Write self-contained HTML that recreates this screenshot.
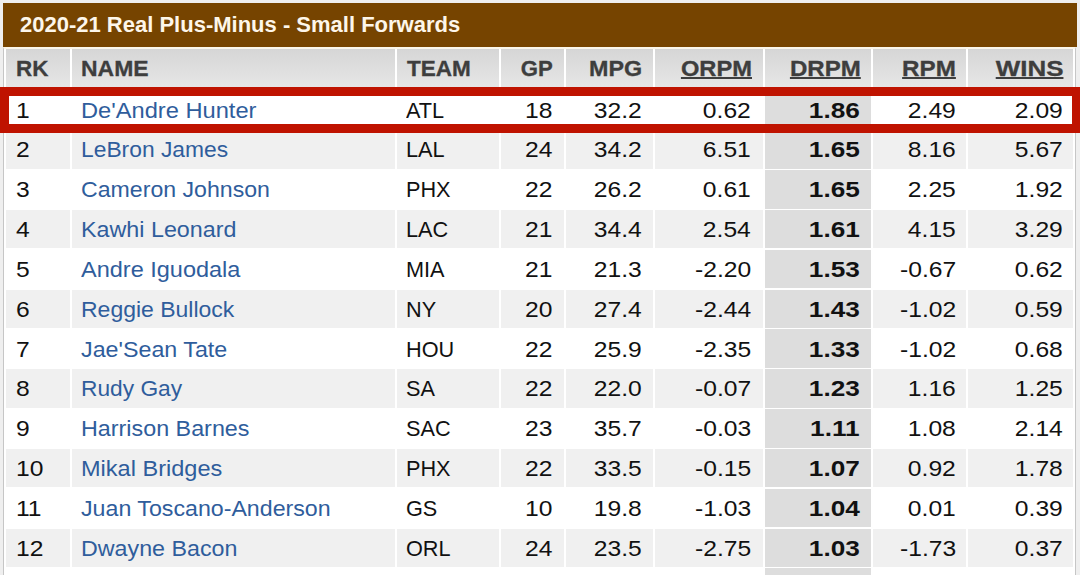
<!DOCTYPE html><html><head><meta charset="utf-8"><style>
*{margin:0;padding:0;box-sizing:border-box}
html,body{width:1080px;height:575px;overflow:hidden;background:#efefef;font-family:"Liberation Sans",sans-serif}
.tb{position:absolute;left:3px;top:47px;border-top:2px solid #fbf6ea;width:1073px;height:540px;background:#fff;border-left:1px solid #c6c6c6;border-right:1px solid #c6c6c6}
.title{position:absolute;left:2.5px;top:3px;width:1074px;height:44px;background:#764400}
.title span{position:absolute;left:17.5px;top:0;line-height:44px;font-size:22px;font-weight:bold;color:#fdf6ea;white-space:nowrap}
.c{position:absolute}
.t{position:absolute;white-space:pre;font-size:22px;line-height:22px;height:22px}
.l{transform-origin:0 0}
.r{transform-origin:100% 0;text-align:right}
.hd{background:linear-gradient(#d6d6d6,#e6e6e6)}
.ht{font-weight:bold;color:#3e3e3e;-webkit-text-stroke:0.3px #3e3e3e}
.u{text-decoration:underline;text-decoration-thickness:1.5px;text-underline-offset:1.2px}
.odd{background:#ffffff}
.even{background:#f0f0f0}
.srt{background:#dddddd}
.srte{background:#dddddd}
.nm{color:#2f5d9c}
.dk{color:#111}
.b{font-weight:bold}
.box{position:absolute;left:0px;top:87px;width:1081px;height:46px;border:9px solid #bf1300}
</style></head><body><div class="tb"></div>
<div class="title"><span>2020-21 Real Plus-Minus - Small Forwards</span></div>
<div class="c hd" style="left:6.00px;top:48.50px;width:64.00px;height:38.00px"></div>
<div class="c hd" style="left:72.00px;top:48.50px;width:323.00px;height:38.00px"></div>
<div class="c hd" style="left:397.00px;top:48.50px;width:102.00px;height:38.00px"></div>
<div class="c hd" style="left:501.00px;top:48.50px;width:63.00px;height:38.00px"></div>
<div class="c hd" style="left:566.00px;top:48.50px;width:87.00px;height:38.00px"></div>
<div class="c hd" style="left:655.00px;top:48.50px;width:108.00px;height:38.00px"></div>
<div class="c hd" style="left:765.00px;top:48.50px;width:106.00px;height:38.00px"></div>
<div class="c hd" style="left:873.00px;top:48.50px;width:93.00px;height:38.00px"></div>
<div class="c hd" style="left:968.00px;top:48.50px;width:105.00px;height:38.00px"></div>
<div class="t l ht" style="left:16.20px;top:58.10px;transform:scaleX(1.020)">RK</div>
<div class="t l ht" style="left:81.00px;top:58.10px;transform:scaleX(1.043)">NAME</div>
<div class="t l ht" style="left:407.30px;top:58.10px;transform:scaleX(1.025)">TEAM</div>
<div class="t r ht" style="right:527.10px;top:58.10px;transform:scaleX(1.007)">GP</div>
<div class="t r ht" style="right:438.30px;top:58.10px;transform:scaleX(1.060)">MPG</div>
<div class="t r ht u" style="right:328.20px;top:58.10px;transform:scaleX(1.077)">ORPM</div>
<div class="t r ht u" style="right:219.00px;top:58.10px;transform:scaleX(1.094)">DRPM</div>
<div class="t r ht u" style="right:123.90px;top:58.10px;transform:scaleX(1.100)">RPM</div>
<div class="t r ht u" style="right:16.40px;top:58.10px;transform:scaleX(1.179)">WINS</div>
<div class="c odd" style="left:6.00px;top:90.40px;width:64.00px;height:38.60px"></div>
<div class="c odd" style="left:72.00px;top:90.40px;width:323.00px;height:38.60px"></div>
<div class="c odd" style="left:397.00px;top:90.40px;width:102.00px;height:38.60px"></div>
<div class="c odd" style="left:501.00px;top:90.40px;width:63.00px;height:38.60px"></div>
<div class="c odd" style="left:566.00px;top:90.40px;width:87.00px;height:38.60px"></div>
<div class="c odd" style="left:655.00px;top:90.40px;width:108.00px;height:38.60px"></div>
<div class="c srt" style="left:765.00px;top:90.40px;width:106.00px;height:38.60px"></div>
<div class="c odd" style="left:873.00px;top:90.40px;width:93.00px;height:38.60px"></div>
<div class="c odd" style="left:968.00px;top:90.40px;width:105.00px;height:38.60px"></div>
<div class="t l dk" style="left:16.00px;top:99.60px;transform:scaleX(1.120)">1</div>
<div class="t l nm" style="left:81.00px;top:99.60px;transform:scaleX(1.075)">De&#39;Andre Hunter</div>
<div class="t l dk" style="left:406.00px;top:99.60px;transform:scaleX(0.985)">ATL</div>
<div class="t r dk" style="right:527.50px;top:99.60px;transform:scaleX(1.120)">18</div>
<div class="t r dk" style="right:438.50px;top:99.60px;transform:scaleX(1.120)">32.2</div>
<div class="t r dk" style="right:329.30px;top:99.60px;transform:scaleX(1.120)">0.62</div>
<div class="t r dk b" style="right:220.40px;top:99.60px;transform:scaleX(1.190)">1.86</div>
<div class="t r dk" style="right:124.00px;top:99.60px;transform:scaleX(1.120)">2.49</div>
<div class="t r dk" style="right:17.00px;top:99.60px;transform:scaleX(1.120)">2.09</div>
<div class="c even" style="left:6.00px;top:130.23px;width:64.00px;height:38.60px"></div>
<div class="c even" style="left:72.00px;top:130.23px;width:323.00px;height:38.60px"></div>
<div class="c even" style="left:397.00px;top:130.23px;width:102.00px;height:38.60px"></div>
<div class="c even" style="left:501.00px;top:130.23px;width:63.00px;height:38.60px"></div>
<div class="c even" style="left:566.00px;top:130.23px;width:87.00px;height:38.60px"></div>
<div class="c even" style="left:655.00px;top:130.23px;width:108.00px;height:38.60px"></div>
<div class="c srte" style="left:765.00px;top:130.23px;width:106.00px;height:38.60px"></div>
<div class="c even" style="left:873.00px;top:130.23px;width:93.00px;height:38.60px"></div>
<div class="c even" style="left:968.00px;top:130.23px;width:105.00px;height:38.60px"></div>
<div class="t l dk" style="left:16.00px;top:139.43px;transform:scaleX(1.120)">2</div>
<div class="t l nm" style="left:81.00px;top:139.43px;transform:scaleX(1.037)">LeBron James</div>
<div class="t l dk" style="left:406.00px;top:139.43px;transform:scaleX(0.985)">LAL</div>
<div class="t r dk" style="right:527.50px;top:139.43px;transform:scaleX(1.120)">24</div>
<div class="t r dk" style="right:438.50px;top:139.43px;transform:scaleX(1.120)">34.2</div>
<div class="t r dk" style="right:329.30px;top:139.43px;transform:scaleX(1.120)">6.51</div>
<div class="t r dk b" style="right:220.40px;top:139.43px;transform:scaleX(1.190)">1.65</div>
<div class="t r dk" style="right:124.00px;top:139.43px;transform:scaleX(1.120)">8.16</div>
<div class="t r dk" style="right:17.00px;top:139.43px;transform:scaleX(1.120)">5.67</div>
<div class="c odd" style="left:6.00px;top:170.06px;width:64.00px;height:38.60px"></div>
<div class="c odd" style="left:72.00px;top:170.06px;width:323.00px;height:38.60px"></div>
<div class="c odd" style="left:397.00px;top:170.06px;width:102.00px;height:38.60px"></div>
<div class="c odd" style="left:501.00px;top:170.06px;width:63.00px;height:38.60px"></div>
<div class="c odd" style="left:566.00px;top:170.06px;width:87.00px;height:38.60px"></div>
<div class="c odd" style="left:655.00px;top:170.06px;width:108.00px;height:38.60px"></div>
<div class="c srt" style="left:765.00px;top:170.06px;width:106.00px;height:38.60px"></div>
<div class="c odd" style="left:873.00px;top:170.06px;width:93.00px;height:38.60px"></div>
<div class="c odd" style="left:968.00px;top:170.06px;width:105.00px;height:38.60px"></div>
<div class="t l dk" style="left:16.00px;top:179.26px;transform:scaleX(1.120)">3</div>
<div class="t l nm" style="left:81.00px;top:179.26px;transform:scaleX(1.051)">Cameron Johnson</div>
<div class="t l dk" style="left:406.00px;top:179.26px;transform:scaleX(0.985)">PHX</div>
<div class="t r dk" style="right:527.50px;top:179.26px;transform:scaleX(1.120)">22</div>
<div class="t r dk" style="right:438.50px;top:179.26px;transform:scaleX(1.120)">26.2</div>
<div class="t r dk" style="right:329.30px;top:179.26px;transform:scaleX(1.120)">0.61</div>
<div class="t r dk b" style="right:220.40px;top:179.26px;transform:scaleX(1.190)">1.65</div>
<div class="t r dk" style="right:124.00px;top:179.26px;transform:scaleX(1.120)">2.25</div>
<div class="t r dk" style="right:17.00px;top:179.26px;transform:scaleX(1.120)">1.92</div>
<div class="c even" style="left:6.00px;top:209.89px;width:64.00px;height:38.60px"></div>
<div class="c even" style="left:72.00px;top:209.89px;width:323.00px;height:38.60px"></div>
<div class="c even" style="left:397.00px;top:209.89px;width:102.00px;height:38.60px"></div>
<div class="c even" style="left:501.00px;top:209.89px;width:63.00px;height:38.60px"></div>
<div class="c even" style="left:566.00px;top:209.89px;width:87.00px;height:38.60px"></div>
<div class="c even" style="left:655.00px;top:209.89px;width:108.00px;height:38.60px"></div>
<div class="c srte" style="left:765.00px;top:209.89px;width:106.00px;height:38.60px"></div>
<div class="c even" style="left:873.00px;top:209.89px;width:93.00px;height:38.60px"></div>
<div class="c even" style="left:968.00px;top:209.89px;width:105.00px;height:38.60px"></div>
<div class="t l dk" style="left:16.00px;top:219.09px;transform:scaleX(1.120)">4</div>
<div class="t l nm" style="left:81.00px;top:219.09px;transform:scaleX(1.059)">Kawhi Leonard</div>
<div class="t l dk" style="left:406.00px;top:219.09px;transform:scaleX(0.985)">LAC</div>
<div class="t r dk" style="right:527.50px;top:219.09px;transform:scaleX(1.120)">21</div>
<div class="t r dk" style="right:438.50px;top:219.09px;transform:scaleX(1.120)">34.4</div>
<div class="t r dk" style="right:329.30px;top:219.09px;transform:scaleX(1.120)">2.54</div>
<div class="t r dk b" style="right:220.40px;top:219.09px;transform:scaleX(1.190)">1.61</div>
<div class="t r dk" style="right:124.00px;top:219.09px;transform:scaleX(1.120)">4.15</div>
<div class="t r dk" style="right:17.00px;top:219.09px;transform:scaleX(1.120)">3.29</div>
<div class="c odd" style="left:6.00px;top:249.72px;width:64.00px;height:38.60px"></div>
<div class="c odd" style="left:72.00px;top:249.72px;width:323.00px;height:38.60px"></div>
<div class="c odd" style="left:397.00px;top:249.72px;width:102.00px;height:38.60px"></div>
<div class="c odd" style="left:501.00px;top:249.72px;width:63.00px;height:38.60px"></div>
<div class="c odd" style="left:566.00px;top:249.72px;width:87.00px;height:38.60px"></div>
<div class="c odd" style="left:655.00px;top:249.72px;width:108.00px;height:38.60px"></div>
<div class="c srt" style="left:765.00px;top:249.72px;width:106.00px;height:38.60px"></div>
<div class="c odd" style="left:873.00px;top:249.72px;width:93.00px;height:38.60px"></div>
<div class="c odd" style="left:968.00px;top:249.72px;width:105.00px;height:38.60px"></div>
<div class="t l dk" style="left:16.00px;top:258.92px;transform:scaleX(1.120)">5</div>
<div class="t l nm" style="left:81.00px;top:258.92px;transform:scaleX(1.068)">Andre Iguodala</div>
<div class="t l dk" style="left:406.00px;top:258.92px;transform:scaleX(0.985)">MIA</div>
<div class="t r dk" style="right:527.50px;top:258.92px;transform:scaleX(1.120)">21</div>
<div class="t r dk" style="right:438.50px;top:258.92px;transform:scaleX(1.120)">21.3</div>
<div class="t r dk" style="right:329.30px;top:258.92px;transform:scaleX(1.120)">-2.20</div>
<div class="t r dk b" style="right:220.40px;top:258.92px;transform:scaleX(1.190)">1.53</div>
<div class="t r dk" style="right:124.00px;top:258.92px;transform:scaleX(1.120)">-0.67</div>
<div class="t r dk" style="right:17.00px;top:258.92px;transform:scaleX(1.120)">0.62</div>
<div class="c even" style="left:6.00px;top:289.55px;width:64.00px;height:38.60px"></div>
<div class="c even" style="left:72.00px;top:289.55px;width:323.00px;height:38.60px"></div>
<div class="c even" style="left:397.00px;top:289.55px;width:102.00px;height:38.60px"></div>
<div class="c even" style="left:501.00px;top:289.55px;width:63.00px;height:38.60px"></div>
<div class="c even" style="left:566.00px;top:289.55px;width:87.00px;height:38.60px"></div>
<div class="c even" style="left:655.00px;top:289.55px;width:108.00px;height:38.60px"></div>
<div class="c srte" style="left:765.00px;top:289.55px;width:106.00px;height:38.60px"></div>
<div class="c even" style="left:873.00px;top:289.55px;width:93.00px;height:38.60px"></div>
<div class="c even" style="left:968.00px;top:289.55px;width:105.00px;height:38.60px"></div>
<div class="t l dk" style="left:16.00px;top:298.75px;transform:scaleX(1.120)">6</div>
<div class="t l nm" style="left:81.00px;top:298.75px;transform:scaleX(1.045)">Reggie Bullock</div>
<div class="t l dk" style="left:406.00px;top:298.75px;transform:scaleX(0.985)">NY</div>
<div class="t r dk" style="right:527.50px;top:298.75px;transform:scaleX(1.120)">20</div>
<div class="t r dk" style="right:438.50px;top:298.75px;transform:scaleX(1.120)">27.4</div>
<div class="t r dk" style="right:329.30px;top:298.75px;transform:scaleX(1.120)">-2.44</div>
<div class="t r dk b" style="right:220.40px;top:298.75px;transform:scaleX(1.190)">1.43</div>
<div class="t r dk" style="right:124.00px;top:298.75px;transform:scaleX(1.120)">-1.02</div>
<div class="t r dk" style="right:17.00px;top:298.75px;transform:scaleX(1.120)">0.59</div>
<div class="c odd" style="left:6.00px;top:329.38px;width:64.00px;height:38.60px"></div>
<div class="c odd" style="left:72.00px;top:329.38px;width:323.00px;height:38.60px"></div>
<div class="c odd" style="left:397.00px;top:329.38px;width:102.00px;height:38.60px"></div>
<div class="c odd" style="left:501.00px;top:329.38px;width:63.00px;height:38.60px"></div>
<div class="c odd" style="left:566.00px;top:329.38px;width:87.00px;height:38.60px"></div>
<div class="c odd" style="left:655.00px;top:329.38px;width:108.00px;height:38.60px"></div>
<div class="c srt" style="left:765.00px;top:329.38px;width:106.00px;height:38.60px"></div>
<div class="c odd" style="left:873.00px;top:329.38px;width:93.00px;height:38.60px"></div>
<div class="c odd" style="left:968.00px;top:329.38px;width:105.00px;height:38.60px"></div>
<div class="t l dk" style="left:16.00px;top:338.58px;transform:scaleX(1.120)">7</div>
<div class="t l nm" style="left:81.00px;top:338.58px;transform:scaleX(1.057)">Jae&#39;Sean Tate</div>
<div class="t l dk" style="left:406.00px;top:338.58px;transform:scaleX(0.985)">HOU</div>
<div class="t r dk" style="right:527.50px;top:338.58px;transform:scaleX(1.120)">22</div>
<div class="t r dk" style="right:438.50px;top:338.58px;transform:scaleX(1.120)">25.9</div>
<div class="t r dk" style="right:329.30px;top:338.58px;transform:scaleX(1.120)">-2.35</div>
<div class="t r dk b" style="right:220.40px;top:338.58px;transform:scaleX(1.190)">1.33</div>
<div class="t r dk" style="right:124.00px;top:338.58px;transform:scaleX(1.120)">-1.02</div>
<div class="t r dk" style="right:17.00px;top:338.58px;transform:scaleX(1.120)">0.68</div>
<div class="c even" style="left:6.00px;top:369.21px;width:64.00px;height:38.60px"></div>
<div class="c even" style="left:72.00px;top:369.21px;width:323.00px;height:38.60px"></div>
<div class="c even" style="left:397.00px;top:369.21px;width:102.00px;height:38.60px"></div>
<div class="c even" style="left:501.00px;top:369.21px;width:63.00px;height:38.60px"></div>
<div class="c even" style="left:566.00px;top:369.21px;width:87.00px;height:38.60px"></div>
<div class="c even" style="left:655.00px;top:369.21px;width:108.00px;height:38.60px"></div>
<div class="c srte" style="left:765.00px;top:369.21px;width:106.00px;height:38.60px"></div>
<div class="c even" style="left:873.00px;top:369.21px;width:93.00px;height:38.60px"></div>
<div class="c even" style="left:968.00px;top:369.21px;width:105.00px;height:38.60px"></div>
<div class="t l dk" style="left:16.00px;top:378.41px;transform:scaleX(1.120)">8</div>
<div class="t l nm" style="left:81.00px;top:378.41px;transform:scaleX(1.034)">Rudy Gay</div>
<div class="t l dk" style="left:406.00px;top:378.41px;transform:scaleX(0.985)">SA</div>
<div class="t r dk" style="right:527.50px;top:378.41px;transform:scaleX(1.120)">22</div>
<div class="t r dk" style="right:438.50px;top:378.41px;transform:scaleX(1.120)">22.0</div>
<div class="t r dk" style="right:329.30px;top:378.41px;transform:scaleX(1.120)">-0.07</div>
<div class="t r dk b" style="right:220.40px;top:378.41px;transform:scaleX(1.190)">1.23</div>
<div class="t r dk" style="right:124.00px;top:378.41px;transform:scaleX(1.120)">1.16</div>
<div class="t r dk" style="right:17.00px;top:378.41px;transform:scaleX(1.120)">1.25</div>
<div class="c odd" style="left:6.00px;top:409.04px;width:64.00px;height:38.60px"></div>
<div class="c odd" style="left:72.00px;top:409.04px;width:323.00px;height:38.60px"></div>
<div class="c odd" style="left:397.00px;top:409.04px;width:102.00px;height:38.60px"></div>
<div class="c odd" style="left:501.00px;top:409.04px;width:63.00px;height:38.60px"></div>
<div class="c odd" style="left:566.00px;top:409.04px;width:87.00px;height:38.60px"></div>
<div class="c odd" style="left:655.00px;top:409.04px;width:108.00px;height:38.60px"></div>
<div class="c srt" style="left:765.00px;top:409.04px;width:106.00px;height:38.60px"></div>
<div class="c odd" style="left:873.00px;top:409.04px;width:93.00px;height:38.60px"></div>
<div class="c odd" style="left:968.00px;top:409.04px;width:105.00px;height:38.60px"></div>
<div class="t l dk" style="left:16.00px;top:418.24px;transform:scaleX(1.120)">9</div>
<div class="t l nm" style="left:81.00px;top:418.24px;transform:scaleX(1.060)">Harrison Barnes</div>
<div class="t l dk" style="left:406.00px;top:418.24px;transform:scaleX(0.985)">SAC</div>
<div class="t r dk" style="right:527.50px;top:418.24px;transform:scaleX(1.120)">23</div>
<div class="t r dk" style="right:438.50px;top:418.24px;transform:scaleX(1.120)">35.7</div>
<div class="t r dk" style="right:329.30px;top:418.24px;transform:scaleX(1.120)">-0.03</div>
<div class="t r dk b" style="right:220.40px;top:418.24px;transform:scaleX(1.190)">1.11</div>
<div class="t r dk" style="right:124.00px;top:418.24px;transform:scaleX(1.120)">1.08</div>
<div class="t r dk" style="right:17.00px;top:418.24px;transform:scaleX(1.120)">2.14</div>
<div class="c even" style="left:6.00px;top:448.87px;width:64.00px;height:38.60px"></div>
<div class="c even" style="left:72.00px;top:448.87px;width:323.00px;height:38.60px"></div>
<div class="c even" style="left:397.00px;top:448.87px;width:102.00px;height:38.60px"></div>
<div class="c even" style="left:501.00px;top:448.87px;width:63.00px;height:38.60px"></div>
<div class="c even" style="left:566.00px;top:448.87px;width:87.00px;height:38.60px"></div>
<div class="c even" style="left:655.00px;top:448.87px;width:108.00px;height:38.60px"></div>
<div class="c srte" style="left:765.00px;top:448.87px;width:106.00px;height:38.60px"></div>
<div class="c even" style="left:873.00px;top:448.87px;width:93.00px;height:38.60px"></div>
<div class="c even" style="left:968.00px;top:448.87px;width:105.00px;height:38.60px"></div>
<div class="t l dk" style="left:16.00px;top:458.07px;transform:scaleX(1.120)">10</div>
<div class="t l nm" style="left:81.00px;top:458.07px;transform:scaleX(1.070)">Mikal Bridges</div>
<div class="t l dk" style="left:406.00px;top:458.07px;transform:scaleX(0.985)">PHX</div>
<div class="t r dk" style="right:527.50px;top:458.07px;transform:scaleX(1.120)">22</div>
<div class="t r dk" style="right:438.50px;top:458.07px;transform:scaleX(1.120)">33.5</div>
<div class="t r dk" style="right:329.30px;top:458.07px;transform:scaleX(1.120)">-0.15</div>
<div class="t r dk b" style="right:220.40px;top:458.07px;transform:scaleX(1.190)">1.07</div>
<div class="t r dk" style="right:124.00px;top:458.07px;transform:scaleX(1.120)">0.92</div>
<div class="t r dk" style="right:17.00px;top:458.07px;transform:scaleX(1.120)">1.78</div>
<div class="c odd" style="left:6.00px;top:488.70px;width:64.00px;height:38.60px"></div>
<div class="c odd" style="left:72.00px;top:488.70px;width:323.00px;height:38.60px"></div>
<div class="c odd" style="left:397.00px;top:488.70px;width:102.00px;height:38.60px"></div>
<div class="c odd" style="left:501.00px;top:488.70px;width:63.00px;height:38.60px"></div>
<div class="c odd" style="left:566.00px;top:488.70px;width:87.00px;height:38.60px"></div>
<div class="c odd" style="left:655.00px;top:488.70px;width:108.00px;height:38.60px"></div>
<div class="c srt" style="left:765.00px;top:488.70px;width:106.00px;height:38.60px"></div>
<div class="c odd" style="left:873.00px;top:488.70px;width:93.00px;height:38.60px"></div>
<div class="c odd" style="left:968.00px;top:488.70px;width:105.00px;height:38.60px"></div>
<div class="t l dk" style="left:16.00px;top:497.90px;transform:scaleX(1.120)">11</div>
<div class="t l nm" style="left:81.00px;top:497.90px;transform:scaleX(1.054)">Juan Toscano-Anderson</div>
<div class="t l dk" style="left:406.00px;top:497.90px;transform:scaleX(0.985)">GS</div>
<div class="t r dk" style="right:527.50px;top:497.90px;transform:scaleX(1.120)">10</div>
<div class="t r dk" style="right:438.50px;top:497.90px;transform:scaleX(1.120)">19.8</div>
<div class="t r dk" style="right:329.30px;top:497.90px;transform:scaleX(1.120)">-1.03</div>
<div class="t r dk b" style="right:220.40px;top:497.90px;transform:scaleX(1.190)">1.04</div>
<div class="t r dk" style="right:124.00px;top:497.90px;transform:scaleX(1.120)">0.01</div>
<div class="t r dk" style="right:17.00px;top:497.90px;transform:scaleX(1.120)">0.39</div>
<div class="c even" style="left:6.00px;top:528.53px;width:64.00px;height:38.60px"></div>
<div class="c even" style="left:72.00px;top:528.53px;width:323.00px;height:38.60px"></div>
<div class="c even" style="left:397.00px;top:528.53px;width:102.00px;height:38.60px"></div>
<div class="c even" style="left:501.00px;top:528.53px;width:63.00px;height:38.60px"></div>
<div class="c even" style="left:566.00px;top:528.53px;width:87.00px;height:38.60px"></div>
<div class="c even" style="left:655.00px;top:528.53px;width:108.00px;height:38.60px"></div>
<div class="c srte" style="left:765.00px;top:528.53px;width:106.00px;height:38.60px"></div>
<div class="c even" style="left:873.00px;top:528.53px;width:93.00px;height:38.60px"></div>
<div class="c even" style="left:968.00px;top:528.53px;width:105.00px;height:38.60px"></div>
<div class="t l dk" style="left:16.00px;top:537.73px;transform:scaleX(1.120)">12</div>
<div class="t l nm" style="left:81.00px;top:537.73px;transform:scaleX(1.057)">Dwayne Bacon</div>
<div class="t l dk" style="left:406.00px;top:537.73px;transform:scaleX(0.985)">ORL</div>
<div class="t r dk" style="right:527.50px;top:537.73px;transform:scaleX(1.120)">24</div>
<div class="t r dk" style="right:438.50px;top:537.73px;transform:scaleX(1.120)">23.5</div>
<div class="t r dk" style="right:329.30px;top:537.73px;transform:scaleX(1.120)">-2.75</div>
<div class="t r dk b" style="right:220.40px;top:537.73px;transform:scaleX(1.190)">1.03</div>
<div class="t r dk" style="right:124.00px;top:537.73px;transform:scaleX(1.120)">-1.73</div>
<div class="t r dk" style="right:17.00px;top:537.73px;transform:scaleX(1.120)">0.37</div>
<div class="c odd" style="left:6.00px;top:568.36px;width:64.00px;height:38.60px"></div>
<div class="c odd" style="left:72.00px;top:568.36px;width:323.00px;height:38.60px"></div>
<div class="c odd" style="left:397.00px;top:568.36px;width:102.00px;height:38.60px"></div>
<div class="c odd" style="left:501.00px;top:568.36px;width:63.00px;height:38.60px"></div>
<div class="c odd" style="left:566.00px;top:568.36px;width:87.00px;height:38.60px"></div>
<div class="c odd" style="left:655.00px;top:568.36px;width:108.00px;height:38.60px"></div>
<div class="c srt" style="left:765.00px;top:568.36px;width:106.00px;height:38.60px"></div>
<div class="c odd" style="left:873.00px;top:568.36px;width:93.00px;height:38.60px"></div>
<div class="c odd" style="left:968.00px;top:568.36px;width:105.00px;height:38.60px"></div>
<div class="box"></div></body></html>
